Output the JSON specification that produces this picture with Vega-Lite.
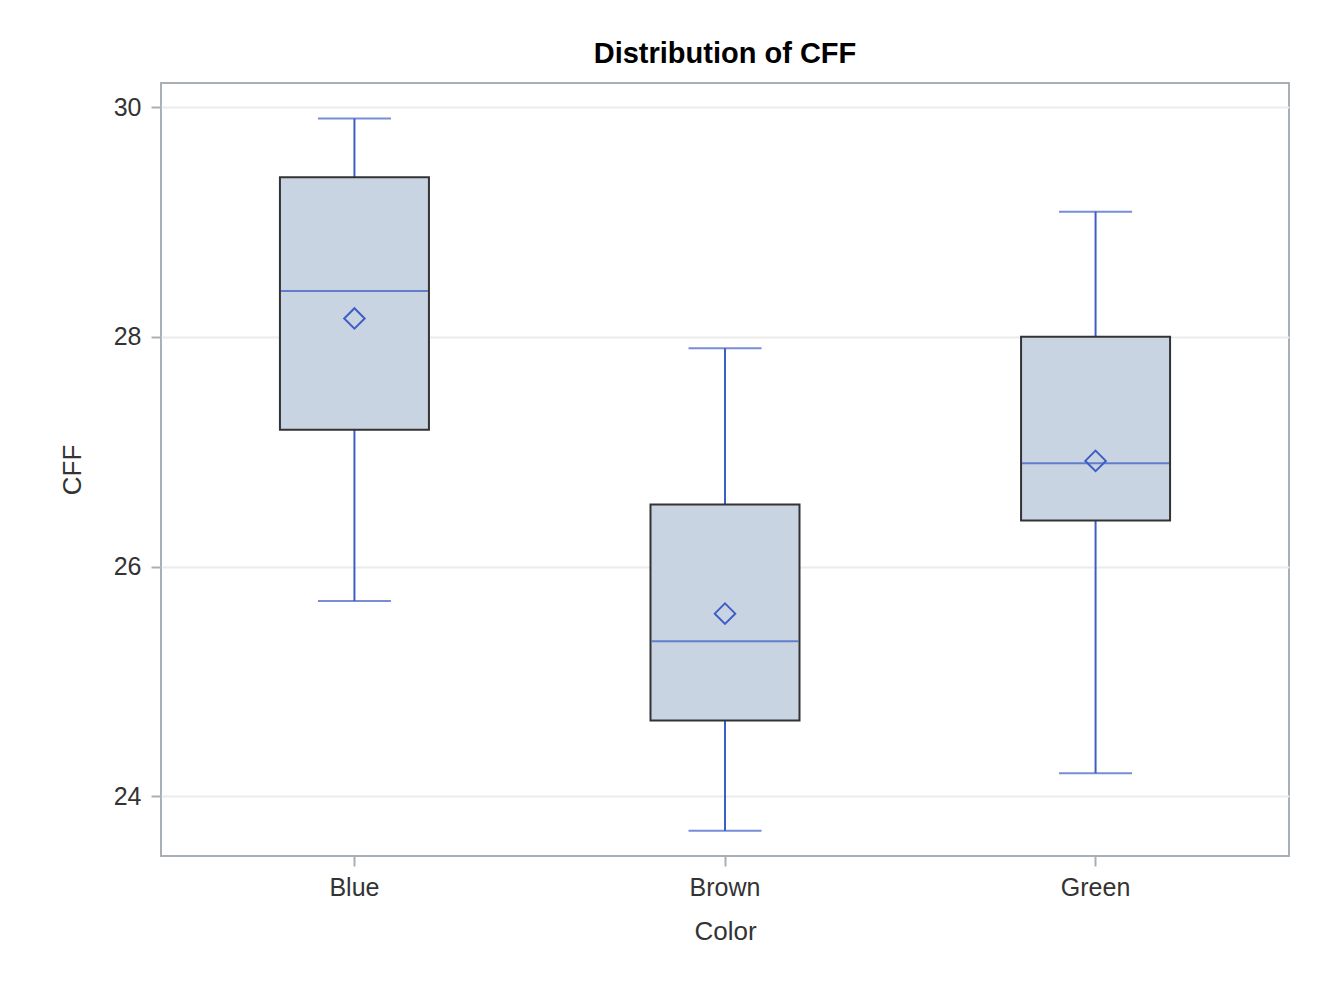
{
  "$schema": "https://vega.github.io/schema/vega-lite/v6.json",
  "width": 1128,
  "height": 773,
  "autosize": {"type": "none"},
  "padding": {"left": 161, "top": 83, "right": 39, "bottom": 134},
  "background": "white",
  "title": {
    "text": "Distribution of CFF",
    "font": "Liberation Sans",
    "fontSize": 29,
    "fontWeight": "bold",
    "color": "#000000",
    "anchor": "middle",
    "baseline": "alphabetic",
    "offset": -9
  },
  "config": {
    "view": {"stroke": "#a9b0b5", "strokeWidth": 2},
    "axis": {
      "labelFont": "Liberation Sans",
      "titleFont": "Liberation Sans",
      "labelColor": "#333333",
      "titleColor": "#333333",
      "labelFontSize": 25,
      "titleFontSize": 26,
      "titleFontWeight": "normal",
      "domain": false,
      "tickColor": "#a9b0b5",
      "tickWidth": 2,
      "tickSize": 10
    }
  },
  "data": {
    "values": [
      {"Color": "Blue", "min": 25.70, "q1": 27.19, "median": 28.40, "mean": 28.16, "q3": 29.39, "max": 29.90},
      {"Color": "Brown", "min": 23.70, "q1": 24.66, "median": 25.35, "mean": 25.59, "q3": 26.54, "max": 27.90},
      {"Color": "Green", "min": 24.20, "q1": 26.40, "median": 26.90, "mean": 26.92, "q3": 28.00, "max": 29.09}
    ]
  },
  "encoding": {
    "x": {
      "field": "Color",
      "type": "nominal",
      "scale": {"paddingInner": 0, "paddingOuter": 0.022},
      "axis": {"labelAngle": 0, "labelPadding": 9, "titlePadding": 18, "grid": false, "title": "Color"}
    }
  },
  "layer": [
    {
      "mark": {"type": "rule", "color": "#3d5ec4", "strokeWidth": 2},
      "encoding": {
        "y": {
          "field": "min",
          "type": "quantitative",
          "scale": {"domain": [23.48, 30.21], "nice": false, "zero": false},
          "axis": {
            "values": [24, 26, 28, 30],
            "format": "d",
            "title": "CFF",
            "grid": true,
            "gridColor": "#ebebeb",
            "gridWidth": 2,
            "labelPadding": 10,
            "titlePadding": 28
          }
        },
        "y2": {"field": "max"}
      }
    },
    {
      "mark": {"type": "tick", "orient": "horizontal", "color": "#3d5ec4", "size": 73, "thickness": 2},
      "encoding": {"y": {"field": "min", "type": "quantitative"}}
    },
    {
      "mark": {"type": "tick", "orient": "horizontal", "color": "#3d5ec4", "size": 73, "thickness": 2},
      "encoding": {"y": {"field": "max", "type": "quantitative"}}
    },
    {
      "mark": {"type": "bar", "size": 149, "fill": "#c9d4e3", "stroke": "#333333", "strokeWidth": 2},
      "encoding": {
        "y": {"field": "q1", "type": "quantitative"},
        "y2": {"field": "q3"}
      }
    },
    {
      "mark": {"type": "tick", "orient": "horizontal", "color": "#3558c0", "size": 147, "thickness": 2},
      "encoding": {"y": {"field": "median", "type": "quantitative"}}
    },
    {
      "mark": {"type": "point", "shape": "diamond", "filled": false, "stroke": "#3d5ec4", "strokeWidth": 2, "size": 420, "opacity": 1},
      "encoding": {"y": {"field": "mean", "type": "quantitative"}}
    }
  ]
}
